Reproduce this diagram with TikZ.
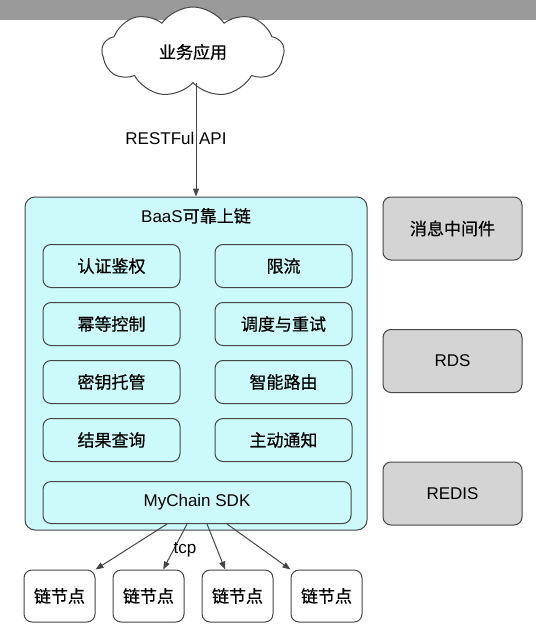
\documentclass[tikz,border=0pt]{standalone}
\usepackage{fontspec}
\setmainfont{Liberation Sans}
\newfontfamily\cjk[FakeBold=0.6]{Noto Sans CJK SC}
\usepackage{tikz}
\usetikzlibrary{positioning,arrows.meta,shapes.symbols}
\definecolor{baascyan}{RGB}{204,250,250}
\definecolor{framegray}{RGB}{70,70,70}
\definecolor{servgray}{RGB}{212,212,212}
\definecolor{topbar}{RGB}{154,154,154}
\newcommand{\dgfont}{\fontsize{17}{20}\selectfont}
\tikzset{
    func/.style={rectangle,draw=framegray,line width=1pt,fill=baascyan,rounded corners=8pt,minimum width=137pt,minimum height=43pt,inner sep=2pt,font=\dgfont\cjk},
    sdkbox/.style={func,minimum width=308pt,minimum height=42pt,font=\dgfont},
    baasbox/.style={rectangle,draw=framegray,line width=1pt,fill=baascyan,rounded corners=10pt,minimum width=342pt,minimum height=333pt},
    svc/.style={rectangle,draw=framegray,line width=1pt,fill=servgray,rounded corners=8pt,minimum width=139pt,minimum height=63pt,font=\dgfont},
    chain/.style={rectangle,draw=framegray,line width=1pt,fill=white,rounded corners=8pt,minimum width=71pt,minimum height=52pt,inner sep=1pt,font=\dgfont\cjk},
    cloudbox/.style={cloud,cloud puffs=9,cloud puff arc=110,aspect=2,draw=framegray,line width=1pt,fill=white,minimum width=182pt,minimum height=90pt,font=\dgfont\cjk},
    arr/.style={-{Triangle[length=8pt,width=6pt]},line width=1pt,draw=framegray},
}

\begin{document}
\begin{tikzpicture}[x=1pt,y=-1pt,every node/.style={font=\dgfont}]
\useasboundingbox (0,0) rectangle (536,634);
\fill[topbar] (0,0) rectangle (536,20);
\node[cloudbox] (app) at (193,52) {业务应用};
\node (api) at (176,138) {RESTFul API};
\node[baasbox] (baas) at (196,363.5) {};
\node[below=8pt of baas.north] (title) {BaaS{\cjk 可靠上链}};
\node[func] (auth) at (111.5,266) {认证鉴权};
\node[func,right=34pt of auth] (limit) {限流};
\node[func,below=14pt of auth] (idem) {幂等控制};
\node[func,below=14pt of limit] (retry) {调度与重试};
\node[func,below=14pt of idem] (key) {密钥托管};
\node[func,below=14pt of retry] (route) {智能路由};
\node[func,below=14pt of key] (query) {结果查询};
\node[func,below=14pt of route] (notify) {主动通知};
\node[sdkbox,below=19pt of query.south west,anchor=north west] (sdk) {MyChain SDK};

\node[svc] (mq) at (452.5,228.5) {\cjk 消息中间件};
\node[svc,below=68.5pt of mq] (rds) {RDS};
\node[svc,below=68.5pt of rds] (redis) {REDIS};

\node[chain] (n1) at (59.5,596) {链节点};
\node[chain,right=17pt of n1] (n2) {链节点};
\node[chain,right=17pt of n2] (n3) {链节点};
\node[chain,right=17pt of n3] (n4) {链节点};

\draw[arr] (app.south -| baas.north) -- (baas.north);
\draw[arr] ([xshift=-30pt]sdk.south) -- (n1.north east);
\draw[arr] ([xshift=-10pt]sdk.south) -- (n2.61);
\draw[arr] ([xshift=10pt]sdk.south) -- (n3.115);
\draw[arr] ([xshift=30pt]sdk.south) -- (n4.north west);
\node (tcp) at (185,550) {tcp};
\end{tikzpicture}
\end{document}
